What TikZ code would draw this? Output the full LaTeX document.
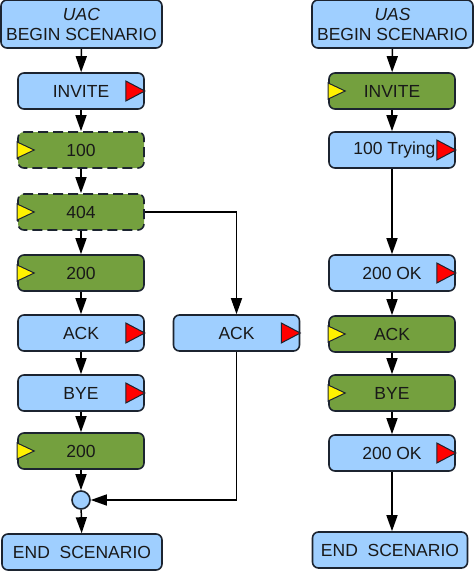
\documentclass[tikz,border=0pt]{standalone}
\usepackage{fontspec}
\setmainfont{Liberation Sans}
\usetikzlibrary{shapes,arrows.meta,positioning}
\definecolor{msgblue}{HTML}{9FCFFF}
\definecolor{msggreen}{HTML}{74A03E}
\definecolor{boxline}{HTML}{1C2430}
\newcommand{\sendmark}[1]{\draw[boxline,fill=red,line width=1pt] (#1.east) -- ++(-19,-10) -- ++(0,20) -- cycle;}
\newcommand{\recvmark}[1]{\draw[boxline,fill=yellow,line width=1pt] (#1.west) ++(0,-8) -- ++(17,8) -- ++(-17,8) -- cycle;}

\begin{document}
\begin{tikzpicture}[x=1pt,y=-1pt]
\tikzset{font={\fontsize{17.5}{20}\selectfont},
  msg/.style={draw=boxline,line width=1.6pt,rounded corners=6pt,minimum width=126pt,minimum height=36pt,inner sep=0pt,text=black!90},
  sent/.style={msg,fill=msgblue},
  recv/.style={msg,fill=msggreen},
  opt/.style={dash pattern=on 10pt off 5pt},
  scen/.style={sent,align=center},
  flow/.style={line width=1.5pt,-{Triangle[width=11pt,length=16pt]}}}
\useasboundingbox (0,0) rectangle (474,571);

%UAC
\node[scen,minimum width=161pt,minimum height=48pt] (uacbegin) at (81.5,24) {\textit{UAC}\\BEGIN SCENARIO};
\node[sent] (invA) at (81,91) {INVITE};
\node[recv,opt] (tryA) at (81,150) {100};
\node[recv,opt] (nfA) at (81,212) {404};
\node[recv] (okA) at (81,273) {200};
\node[sent] (ackA) at (81,333) {ACK};
\node[sent] (byeA) at (81,393) {BYE};
\node[recv] (okbA) at (81,451) {200};
\node[circle,draw=boxline,line width=1.6pt,fill=msgblue,minimum size=18pt,inner sep=0pt] (joinA) at (81,500) {};
\node[scen,minimum width=160pt] (uacend) at (82,552) {END\ \ SCENARIO};
\node[sent] (ackB) at (236.5,333) {ACK};

%UAS
\node[scen,minimum width=161pt,minimum height=48pt] (uasbegin) at (392.5,24) {\textit{UAS}\\BEGIN SCENARIO};
\node[recv] (invB) at (392,91) {INVITE};
\node[sent] (tryB) at (392,150) {\ \ 100 Trying\phantom{I}};
\node[sent] (okB) at (392,273) {200 OK};
\node[recv] (ackC) at (392,334) {ACK};
\node[recv] (byeB) at (392,393) {BYE};
\node[sent] (okcB) at (392,453) {200 OK};
\node[scen,minimum width=155pt] (uasend) at (390,550) {END\ \ SCENARIO};

%Marks
\foreach \n in {invA,ackA,byeA,ackB,tryB,okB,okcB}
{\sendmark{\n}}
\foreach \n in {tryA,nfA,okA,okbA,invB,ackC,byeB}
{\recvmark{\n}}

%Flow
\draw[flow] (uacbegin) -- (invA);
\draw[flow] (invA) -- (tryA);
\draw[flow] (tryA) -- (nfA);
\draw[flow] (nfA) -- (okA);
\draw[flow] (okA) -- (ackA);
\draw[flow] (ackA) -- (byeA);
\draw[flow] (byeA) -- (okbA);
\draw[flow] (okbA) -- (joinA);
\draw[flow] (joinA) -- (uacend);
\draw[flow] (nfA.east) -| (ackB.north);
\draw[flow] (ackB.south) |- (joinA.east);

\draw[flow] (uasbegin) -- (invB);
\draw[flow] (invB) -- (tryB);
\draw[flow] (tryB) -- (okB);
\draw[flow] (okB) -- (ackC);
\draw[flow] (ackC) -- (byeB);
\draw[flow] (byeB) -- (okcB);
\draw[flow] (okcB.south) -- (okcB.south |- uasend.north);

\end{tikzpicture}
\end{document}
